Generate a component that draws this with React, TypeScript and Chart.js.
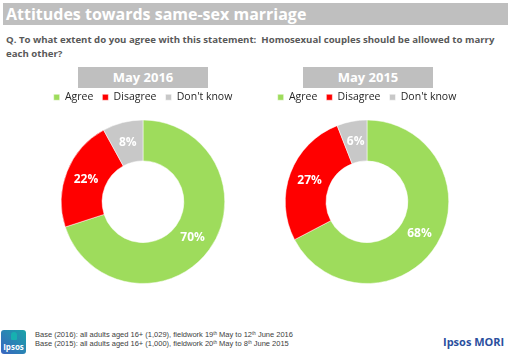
import React, { useEffect, useRef } from "react";
import { Chart, registerables } from "chart.js";

Chart.register(...registerables);

const categories = ["Agree", "Disagree", "Don't know"];
const values2016 = [70, 22, 8];
const values2015 = [68, 27, 6];
const colors = ["#9edc5c", "#ff0000", "#c8c8c8"];

const FONT = "'Open Sans', 'Noto Sans', sans-serif";

const labelPlugin = {
  id: "pctLabels",
  afterDatasetsDraw(chart: any) {
    const ctx = chart.ctx;
    const meta = chart.getDatasetMeta(0);
    const data = chart.data.datasets[0].data;
    ctx.save();
    ctx.fillStyle = "#ffffff";
    ctx.font = `bold 12px ${FONT}`;
    ctx.textAlign = "center";
    ctx.textBaseline = "middle";
    meta.data.forEach((arc: any, i: number) => {
      const p = arc.tooltipPosition();
      ctx.fillText(`${data[i]}%`, p.x, p.y);
    });
    ctx.restore();
  },
};

// adds extra space below the legend
const legendGapPlugin = {
  id: "legendGap",
  beforeUpdate(chart: any) {
    const l = chart.legend;
    if (l && !l._gapPatched) {
      const orig = l.fit.bind(l);
      l.fit = function () {
        orig();
        this.height += 7;
      };
      l._gapPatched = true;
    }
  },
};

const CW = 240;
const CH = 206;

function Donut({ values, left, top }: { values: number[]; left: number; top: number }) {
  const ref = useRef<HTMLCanvasElement>(null);
  useEffect(() => {
    const chart = new Chart(ref.current!, {
      type: "doughnut",
      data: {
        labels: categories,
        datasets: [
          {
            data: values,
            backgroundColor: colors,
            borderColor: "rgba(255,255,255,0.5)",
            borderWidth: 1,
          },
        ],
      },
      options: {
        animation: false,
        responsive: false,
        maintainAspectRatio: false,
        cutout: "50%",
        layout: { padding: { top: 0, bottom: 5 } },
        plugins: {
          tooltip: { enabled: false },
          legend: {
            position: "top",
            labels: {
              boxWidth: 6,
              boxHeight: 6,
              padding: 9,
              color: "#262626",
              font: { size: 10.5, family: FONT },
            },
          },
        },
      },
      plugins: [legendGapPlugin, labelPlugin],
    });
    return () => chart.destroy();
  }, []);
  return (
    <canvas
      ref={ref}
      width={CW}
      height={CH}
      style={{ position: "absolute", left, top, width: CW, height: CH }}
    />
  );
}

const boxStyle = (left: number): React.CSSProperties => ({
  position: "absolute",
  left,
  top: 67,
  width: 130,
  height: 21,
  background: "#bfbfbf",
  color: "#ffffff",
  fontFamily: FONT,
  fontWeight: 700,
  fontSize: 13,
  lineHeight: "21px",
  textAlign: "center",
});

const supStyle: React.CSSProperties = { fontSize: 4.5, verticalAlign: "top", lineHeight: "5px" };

export default function App() {
  return (
    <div
      style={{
        position: "absolute",
        left: 0,
        top: 0,
        width: 510,
        height: 354,
        background: "#ffffff",
        overflow: "hidden",
        fontFamily: FONT,
      }}
    >
      <div
        style={{
          position: "absolute",
          left: 3,
          top: 3,
          width: 505,
          height: 22,
          background: "#bfbfbf",
          color: "#ffffff",
          fontWeight: 700,
          fontSize: 16,
          lineHeight: "22px",
          paddingLeft: 3,
          boxSizing: "border-box",
        }}
      >
        Attitudes towards same-sex marriage
      </div>
      <div
        style={{
          position: "absolute",
          left: 6,
          top: 33,
          width: 500,
          color: "#595959",
          fontWeight: 700,
          fontSize: 9.65,
          lineHeight: "14px",
          whiteSpace: "nowrap",
        }}
      >
        <div>Q. To what extent do you agree with this statement:&nbsp; Homosexual couples should be allowed to marry</div>
        <div>each other?</div>
      </div>
      <div style={boxStyle(78)}>May 2016</div>
      <div style={boxStyle(303)}>May 2015</div>
      <Donut values={values2016} left={143 - CW / 2} top={83} />
      <Donut values={values2015} left={367 - CW / 2} top={83} />
      <div
        style={{
          position: "absolute",
          left: 1,
          top: 330,
          width: 25,
          height: 24,
          background: "linear-gradient(45deg, #3a64c0 0%, #1aa3a8 100%)",
          borderRadius: 3,
          color: "#fff",
          fontSize: 8,
          fontWeight: 700,
          textAlign: "center",
          lineHeight: "10px",
        }}
      >
        <div style={{ width: 6, height: 8, margin: "2px auto 2px", background: "#17b0b0", borderRadius: "3px 3px 1px 1px" }} />
        Ipsos
      </div>
      <div
        style={{
          position: "absolute",
          left: 35,
          top: 331,
          fontFamily: "'Liberation Sans', Arial, sans-serif",
          fontSize: 7.5,
          lineHeight: "8.5px",
          color: "#404040",
          whiteSpace: "nowrap",
        }}
      >
        <div style={{ height: 8.5 }}>
          Base (2016): all adults aged 16+ (1,029), fieldwork 19<span style={supStyle}>th</span> May to 12
          <span style={supStyle}>th</span> June 2016
        </div>
        <div style={{ height: 8.5 }}>
          Base (2015): all adults aged 16+ (1,000), fieldwork 20<span style={supStyle}>th</span> May to 8
          <span style={supStyle}>th</span> June 2015
        </div>
      </div>
      <div
        style={{
          position: "absolute",
          left: 443,
          top: 334,
          color: "#2a4f9e",
          fontWeight: 700,
          fontSize: 11,
          lineHeight: "16px",
          whiteSpace: "nowrap",
        }}
      >
        Ipsos MORI
      </div>
    </div>
  );
}
